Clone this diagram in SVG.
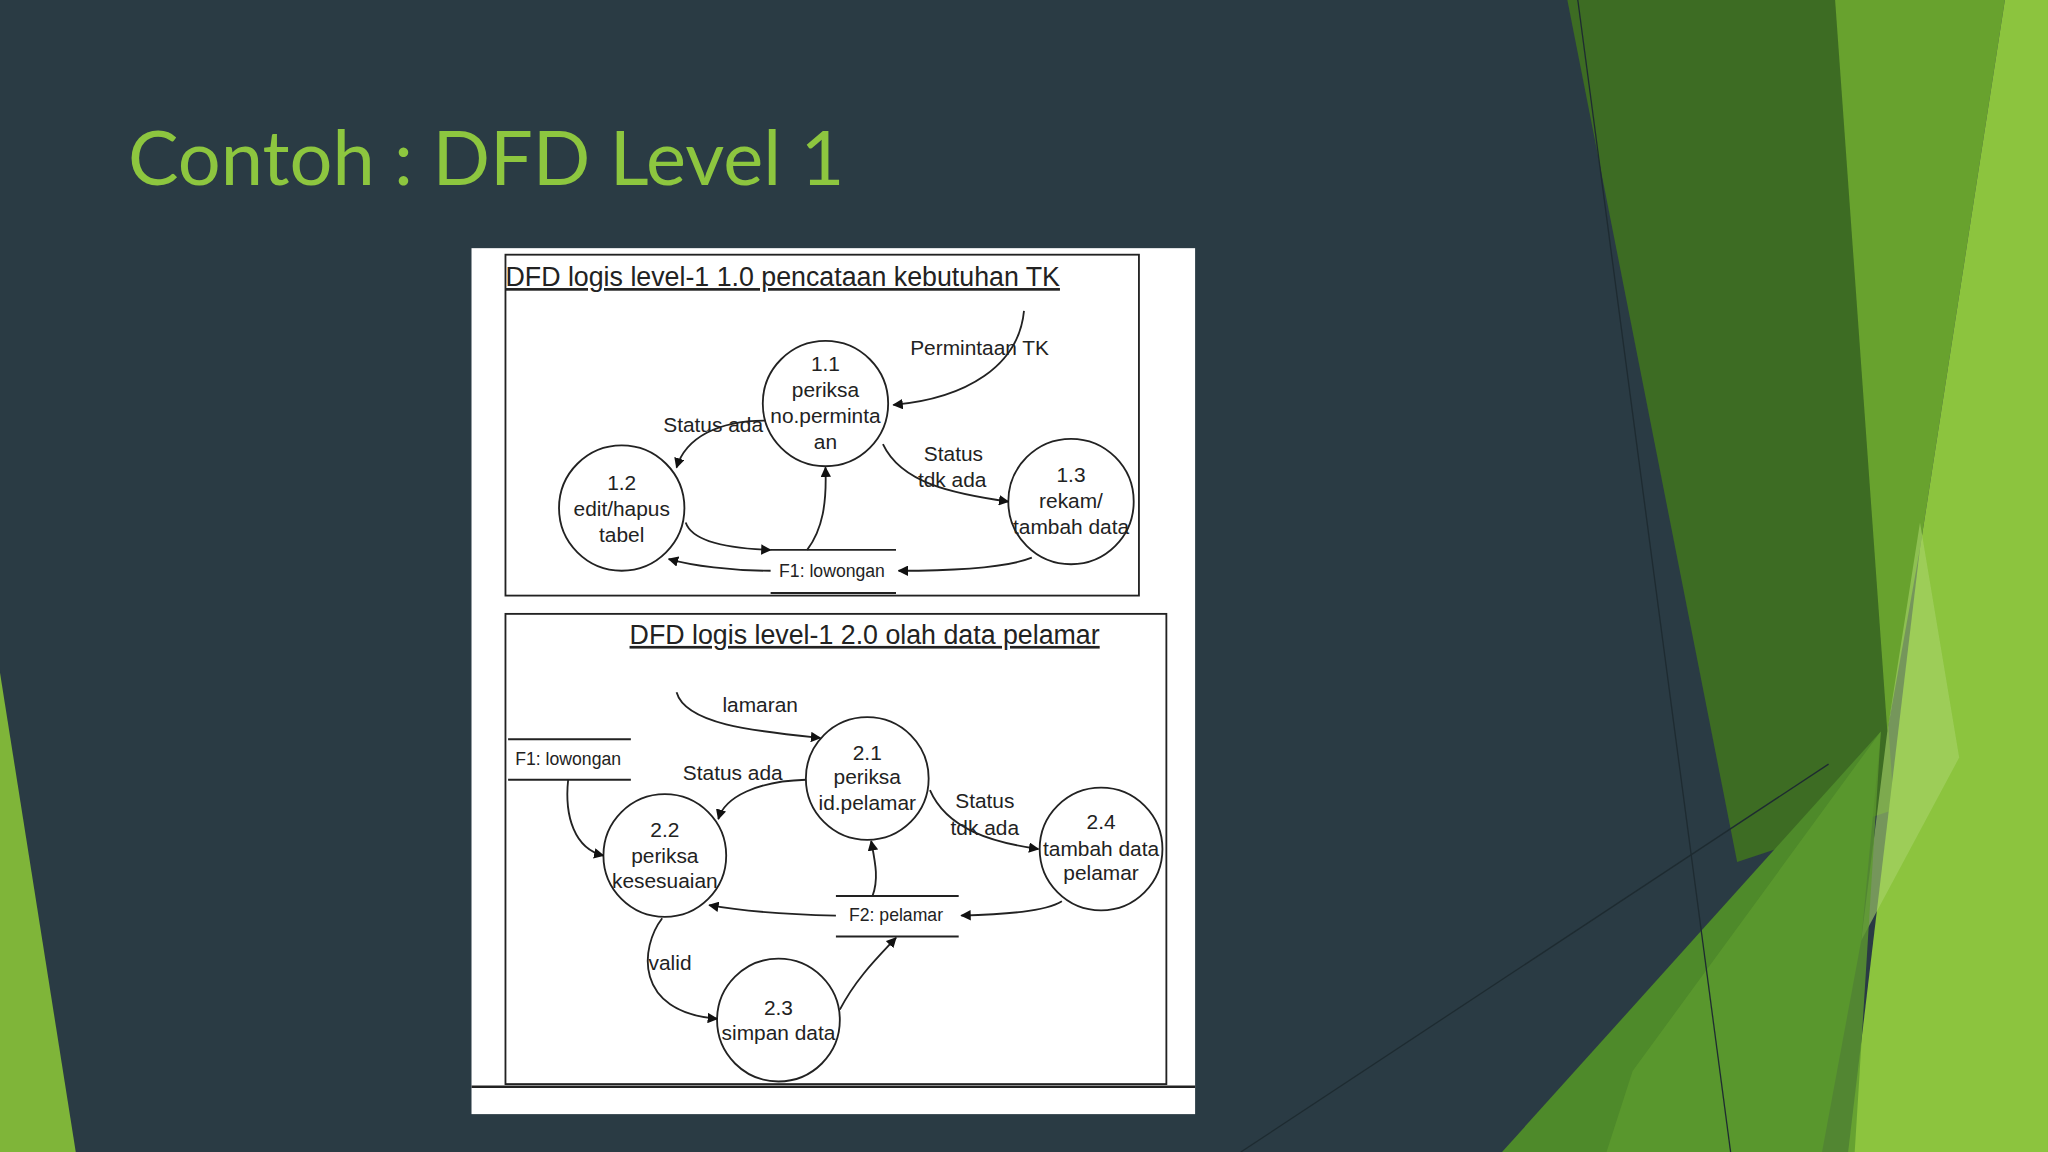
<svg xmlns="http://www.w3.org/2000/svg" width="2048" height="1152" viewBox="0 0 2048 1152">
<defs>
<style>
.c{fill:#fff;stroke:#222;stroke-width:1.4}
.f{fill:none;stroke:#222;stroke-width:1.4}
.s{stroke:#222;stroke-width:1.4}
.t{font-family:"Liberation Sans",Arial,sans-serif;font-size:16px;fill:#222;text-anchor:middle}
.st{font-family:"Liberation Sans",Arial,sans-serif;font-size:13.5px;fill:#222;text-anchor:middle}
.h{font-family:"Liberation Sans",Arial,sans-serif;font-size:20.5px;fill:#222;text-decoration:underline}
</style>
<marker id="a" viewBox="0 0 10 10" refX="9" refY="5" markerWidth="8" markerHeight="8" orient="auto" markerUnits="userSpaceOnUse"><path d="M0,0L10,5L0,10z" fill="#111"/></marker>
</defs>
<rect width="2048" height="1152" fill="#2a3b44"/>
<g transform="scale(1.30612)">
<g id="bg">
<polygon points="1200,0 1410,0 1450,620 1330,660" fill="#3d6c23"/>
<polygon points="1405,0 1535,0 1470,420 1445,560" fill="#68a22e"/>
<polygon points="1535,0 1568,0 1568,882 1415,882 1470,420" fill="#8cc43e"/>
<polygon points="1470,400 1500,580 1425,720 1445,560" fill="#a8d46a" opacity="0.6"/>
<polygon points="1150,882 1440,560 1425,720 1395,882" fill="#4e8a2a"/>
<polygon points="1250,820 1440,560 1420,882 1230,882" fill="#5c9a2e" opacity="0.8"/>
<polygon points="0,515 0,882 58,882" fill="#7fb539"/>
<line x1="1208" y1="0" x2="1325" y2="882" stroke="#1e2b31" stroke-width="1"/>
<line x1="950" y1="882" x2="1400" y2="585" stroke="#1e2b31" stroke-width="1"/>
</g>
<text x="98" y="142" font-family="Lato,'Open Sans',sans-serif" font-size="58" fill="#8dc63f">Contoh : DFD Level 1</text>
<rect id="panel" x="361" y="190" width="554" height="663" fill="#fff"/>
<line x1="361" y1="832" x2="915" y2="832" stroke="#222" stroke-width="2"/>
<g id="box1">
<rect x="387" y="195" width="485" height="261" class="f"/>
<text x="387" y="219" class="h">DFD logis level-1 1.0 pencataan kebutuhan TK</text>
</g>
<g id="p11"><circle cx="632" cy="309" r="48" class="c"/><text class="t" x="632" y="284">1.1</text><text class="t" x="632" y="304">periksa</text><text class="t" x="632" y="324">no.perminta</text><text class="t" x="632" y="344">an</text></g>
<g id="p12"><circle cx="476" cy="389" r="48" class="c"/><text class="t" x="476" y="375">1.2</text><text class="t" x="476" y="395">edit/hapus</text><text class="t" x="476" y="415">tabel</text></g>
<g id="p13"><circle cx="820" cy="384" r="48" class="c"/><text class="t" x="820" y="369">1.3</text><text class="t" x="820" y="389">rekam/</text><text class="t" x="820" y="409">tambah data</text></g>
<g id="f1a"><line x1="590" y1="421" x2="686" y2="421" class="s"/><line x1="590" y1="454" x2="686" y2="454" class="s" stroke-width="2.5"/><text class="st" x="637" y="442">F1: lowongan</text></g>
<g id="box2">
<rect x="387" y="470" width="506" height="360" class="f"/>
<text x="482" y="493" class="h">DFD logis level-1 2.0 olah data pelamar</text>
</g>
<g id="p21"><circle cx="664" cy="596" r="47" class="c"/><text class="t" x="664" y="582">2.1</text><text class="t" x="664" y="600">periksa</text><text class="t" x="664" y="620">id.pelamar</text></g>
<g id="p22"><circle cx="509" cy="655" r="47" class="c"/><text class="t" x="509" y="641">2.2</text><text class="t" x="509" y="661">periksa</text><text class="t" x="509" y="680">kesesuaian</text></g>
<g id="p23"><circle cx="596" cy="781" r="47" class="c"/><text class="t" x="596" y="777">2.3</text><text class="t" x="596" y="796">simpan data</text></g>
<g id="p24"><circle cx="843" cy="650" r="47" class="c"/><text class="t" x="843" y="635">2.4</text><text class="t" x="843" y="655">tambah data</text><text class="t" x="843" y="674">pelamar</text></g>
<g id="f1b"><line x1="389" y1="566" x2="483" y2="566" class="s"/><line x1="389" y1="597" x2="483" y2="597" class="s"/><text class="st" x="435" y="586">F1: lowongan</text></g>
<g id="f2"><line x1="640" y1="686" x2="734" y2="686" class="s"/><line x1="640" y1="717" x2="734" y2="717" class="s"/><text class="st" x="686" y="705">F2: pelamar</text></g>
<g id="connectors" class="f" marker-end="url(#a)">
<path d="M784,238 C780,280 740,305 684,310"/>
<path d="M586,322 C550,322 525,335 518,358"/>
<path d="M676,340 C690,370 730,378 772,384"/>
<path d="M525,400 C530,415 560,420 590,421"/>
<path d="M618,421 C630,405 633,385 632,358"/>
<path d="M790,427 C770,435 730,437 688,437"/>
<path d="M590,437 C560,437 530,433 512,428"/>
<path d="M518,530 C525,555 580,560 628,565"/>
<path d="M617,597 C580,598 555,610 550,627"/>
<path d="M712,605 C725,635 760,645 795,650"/>
<path d="M435,597 C432,625 440,650 462,655"/>
<path d="M813,690 C800,698 770,700 736,701"/>
<path d="M640,701 C600,700 570,698 543,693"/>
<path d="M668,686 C673,673 670,660 667,644"/>
<path d="M507,703 C490,725 485,775 549,780"/>
<path d="M643,773 C655,750 670,735 686,718"/>
</g>
<g id="labels">
<text class="t" x="750" y="272">Permintaan TK</text>
<text class="t" x="546" y="331">Status ada</text>
<text class="t" x="730" y="353">Status</text>
<text class="t" x="729" y="373">tdk ada</text>
<text class="t" x="582" y="545">lamaran</text>
<text class="t" x="561" y="597">Status ada</text>
<text class="t" x="754" y="619">Status</text>
<text class="t" x="754" y="639">tdk ada</text>
<text class="t" x="513" y="743">valid</text>
</g>
</g>
</svg>
